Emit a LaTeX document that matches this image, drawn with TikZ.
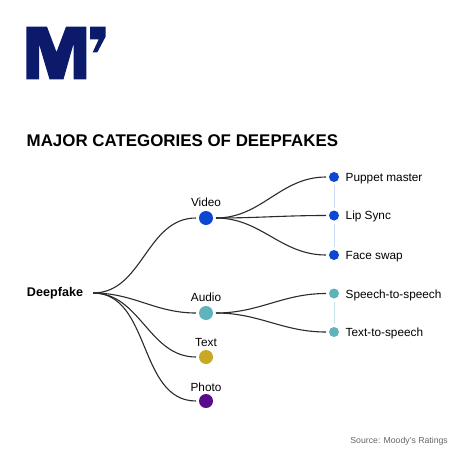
\documentclass[tikz,border=0pt]{standalone}
\usepackage{fontspec}
\setmainfont{Liberation Sans}
\usepackage{tikz}
\definecolor{logo-navy}{HTML}{0B1A6B}
\definecolor{video-blue}{HTML}{0B47D1}
\definecolor{audio-teal}{HTML}{5FB3BC}
\definecolor{text-gold}{HTML}{C9A824}
\definecolor{photo-purple}{HTML}{5A0A8C}
\definecolor{link-gray}{HTML}{2B2B2B}
\definecolor{rail-blue}{HTML}{CBDCF3}
\definecolor{rail-teal}{HTML}{CBE6E8}
\tikzset{
  catdot/.style={circle, minimum size=14pt, inner sep=0pt, outer sep=3pt},
  leafdot/.style={circle, minimum size=10pt, inner sep=0pt, outer sep=3pt},
  catlabel/.style={font=\fontsize{11.8}{13}\selectfont, inner sep=0pt},
  leaflabel/.style={font=\fontsize{11.8}{13}\selectfont, inner sep=0pt, anchor=west},
  link/.style={link-gray, line width=1.1pt},
}

\begin{document}
\begin{tikzpicture}[x=1pt, y=-1pt]
    \useasboundingbox (0,0) rectangle (474,474);
    % logo
    \fill[logo-navy] (26.3,26.7) -- (47,26.7) -- (56.5,52) -- (66,26.7) -- (86.3,26.7) -- (86.3,79.3) -- (73.5,79.3) -- (73.5,44) -- (63.5,79.3) -- (49.5,79.3) -- (39,44) -- (39,79.3) -- (26.3,79.3) -- cycle;
    \fill[logo-navy] (90,26.7) -- (105.7,26.7) -- (105.7,36.5) -- (97.3,52.3) -- (92.7,52.3) -- (98.7,39.3) -- (90,39.3) -- cycle;
    \node[font=\bfseries\fontsize{16.9}{20}\selectfont, anchor=west, inner sep=0pt] (title) at (26.5,140.5) {MAJOR CATEGORIES OF DEEPFAKES};

    % root and categories
    \node[font=\bfseries\fontsize{12.6}{14}\selectfont, anchor=west, inner sep=0pt, outer xsep=10pt] (deepfake) at (17,293) {Deepfake};
    \node[catdot, fill=video-blue] (video) at (206,218) {};
    \node[catdot, fill=audio-teal] (audio) at (206,313) {};
    \node[catdot, fill=text-gold] (text) at (206,357) {};
    \node[catdot, fill=photo-purple] (photo) at (206,401) {};
    \node[catlabel] (videolabel) at (206,202.5) {Video};
    \node[catlabel] (audiolabel) at (206,297.5) {Audio};
    \node[catlabel] (textlabel) at (206,342.5) {Text};
    \node[catlabel] (photolabel) at (206,387.5) {Photo};

    % leaves
    \node[leafdot, fill=video-blue] (puppet) at (334,177) {};
    \node[leafdot, fill=video-blue] (lipsync) at (334,215.5) {};
    \node[leafdot, fill=video-blue] (faceswap) at (334,255) {};
    \node[leafdot, fill=audio-teal] (speech) at (334,293.5) {};
    \node[leafdot, fill=audio-teal] (tts) at (334,332) {};
    \node[leaflabel] (puppetlabel) at (345.5,179) {Puppet master};
    \node[leaflabel] (lipsynclabel) at (345.5,216.5) {Lip Sync};
    \node[leaflabel] (faceswaplabel) at (345.5,256.5) {Face swap};
    \node[leaflabel] (speechlabel) at (345.5,295.5) {Speech-to-speech};
    \node[leaflabel] (ttslabel) at (345.5,333.5) {Text-to-speech};

    % rails
    \draw[rail-blue, line width=0.9pt] (puppet) -- (lipsync);
    \draw[rail-blue, line width=0.9pt] (lipsync) -- (faceswap);
    \draw[rail-teal, line width=0.9pt] (speech) -- (tts);

    % links
    \draw[link] (deepfake.east) to[out=0, in=180] (video.west);
    \draw[link] (deepfake.east) to[out=0, in=180] (audio.west);
    \draw[link] (deepfake.east) to[out=0, in=180] (text.west);
    \draw[link] (deepfake.east) to[out=0, in=180] (photo.west);
    \draw[link] (video.east) to[out=0, in=180] (puppet.west);
    \draw[link] (video.east) to[out=0, in=180] (lipsync.west);
    \draw[link] (video.east) to[out=0, in=180] (faceswap.west);
    \draw[link] (audio.east) to[out=0, in=180] (speech.west);
    \draw[link] (audio.east) to[out=0, in=180] (tts.west);

    \node[font=\fontsize{8.7}{10}\selectfont, text=black!60, anchor=east, inner sep=0pt] (source) at (448,441) {Source: Moody's Ratings};
\end{tikzpicture}
\end{document}
